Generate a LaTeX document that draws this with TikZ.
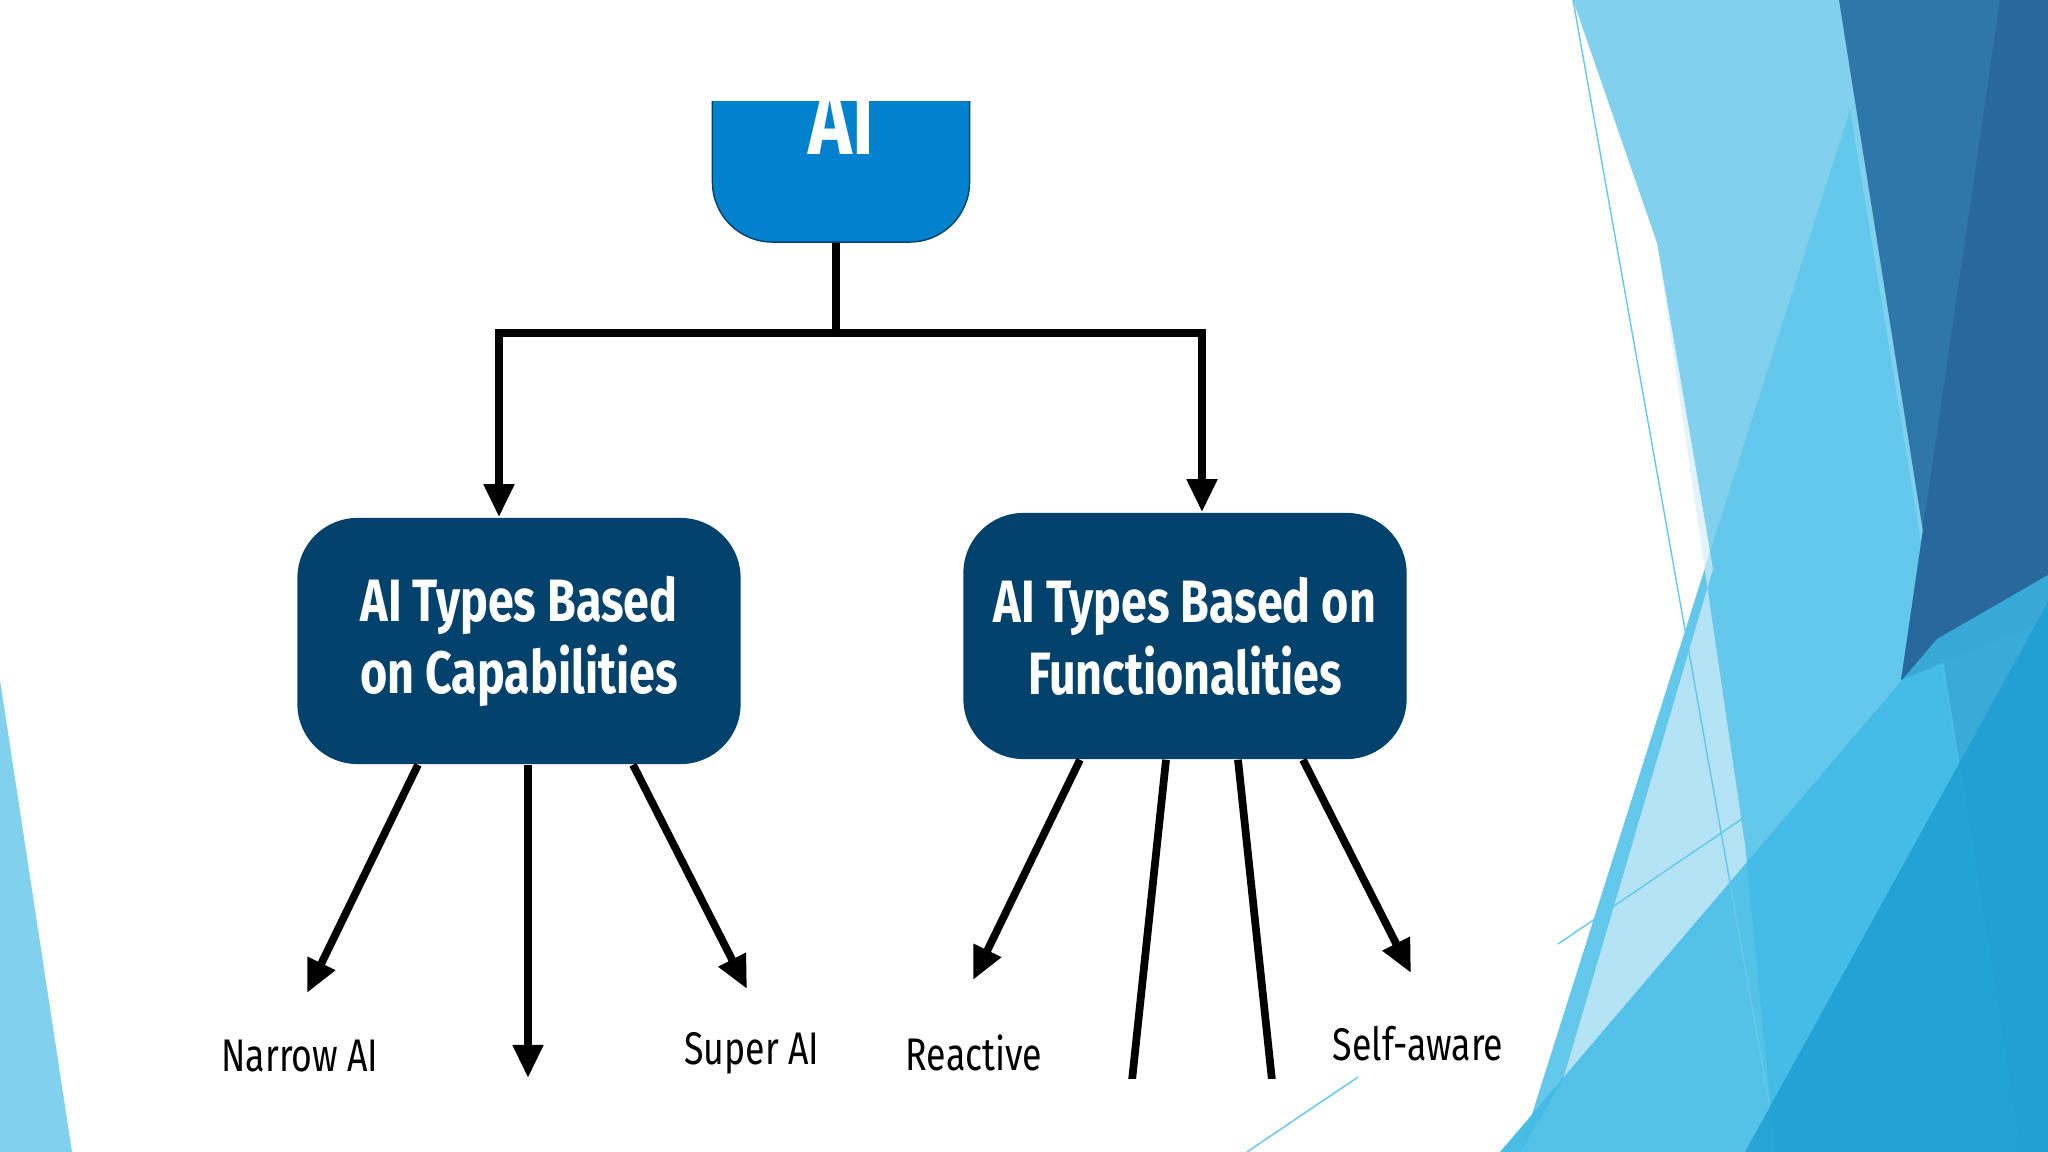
\documentclass[tikz,border=0pt]{standalone}
\usepackage{fontspec}
\setmainfont{Fira Sans}
\newfontfamily\narrowfont{Fira Sans}[FakeStretch=0.78]
\usepackage{tikz}
\usetikzlibrary{arrows.meta}

\definecolor{AIblue}{HTML}{0281CE}
\definecolor{TypeBlue}{HTML}{04426E}
\definecolor{FacetA}{HTML}{80D0EE}
\definecolor{FacetB}{HTML}{64C8EC}
\definecolor{FacetC}{HTML}{2E77A8}
\definecolor{FacetD}{HTML}{28689C}
\definecolor{FacetE}{HTML}{1E9FD3}
\definecolor{FacetF}{HTML}{3DB9E6}
\definecolor{FacetG}{HTML}{D6EFF9}

\tikzset{
    typebox/.style={fill=TypeBlue, rounded corners=6mm, minimum width=44.3mm,
        minimum height=24.6mm, align=center, text=white,
        font=\narrowfont\fontsize{17}{20.5}\selectfont\bfseries},
    leaf/.style={align=center, font=\narrowfont\fontsize{13}{15}\selectfont},
    link/.style={line width=2.2pt, -{Triangle[length=3.3mm,width=2.9mm]}},
    stem/.style={line width=2.2pt}
}

\begin{document}
\begin{tikzpicture}[x=0.01cm, y=-0.01cm]
    \useasboundingbox (0,0) rectangle (2048,1152);

        % facets on the right
        \begin{scope}
            \fill[FacetA] (1573,0) -- (2048,0) -- (2048,1152) -- (1500,1152)
                -- (1563,1080) -- (1713,569) -- (1657,243) -- cycle;
            \fill[FacetB] (1850,110) -- (2021,1152) -- (1520,1152) -- cycle;
            \fill[FacetG, opacity=0.7] (1657,243) -- (1745,845) -- (1775,1152)
                -- (1520,1152) -- (1563,1080) -- (1713,569) -- cycle;
            \fill[FacetC] (1839,0) -- (2048,0) -- (2048,1152) -- (2021,1152) -- cycle;
            \fill[FacetD] (2000,0) -- (2048,0) -- (2048,620) -- (1901,680) -- cycle;
            \fill[FacetF, opacity=0.8] (1937,639) -- (2048,575) -- (2048,1152) -- (1500,1152) -- cycle;
            \fill[FacetE, opacity=0.85] (2048,602) -- (2048,1152) -- (1745,1152) -- cycle;
            \fill[FacetA] (0,680) -- (72,1152) -- (0,1152) -- cycle;
            \draw[FacetB, thin] (1573,0) -- (1769,1102);
            \draw[FacetB, thin] (1558,944) -- (1839,753);
            \draw[FacetB, thin] (1247,1152) -- (1358,1077);
        \end{scope}

        % the chart, cut to its frame
        \begin{scope}
            \clip (190,102) rectangle (1557,1078);

            \node[fill=AIblue, draw=TypeBlue, rounded corners=6mm,
                minimum width=25.7mm, minimum height=24mm, text=white,
                font=\narrowfont\fontsize{27}{30}\selectfont\bfseries]
                (AI) at (841,122) {AI};

            \node[typebox] (Capab) at (519,641) {AI Types Based\\on Capabilities};
            \node[typebox] (Funct) at (1185,636) {AI Types Based on\\Functionalities};

            \coordinate (Fork) at (836,333);
            \draw[stem] (AI.south -| Fork) -- (Fork);
            \draw[link] (Fork) -| (Capab.north -| 499,0);
            \draw[link] (Fork) -| (Funct.north -| 1202,0);

            \coordinate (NarrowEnd) at (307,993);
            \coordinate (GeneralEnd) at (528,1078);
            \coordinate (SuperEnd) at (747,989);
            \draw[link] (Capab.south -| 418,0) -- (NarrowEnd);
            \draw[link] (Capab.south -| GeneralEnd) -- (GeneralEnd);
            \draw[link] (Capab.south -| 633,0) -- (SuperEnd);

            \coordinate (ReactEnd) at (973,980);
            \coordinate (LimitEnd) at (1131,1090);
            \coordinate (TheoryEnd) at (1273,1090);
            \coordinate (SelfEnd) at (1411,973);
            \draw[link] (Funct.south -| 1080,0) -- (ReactEnd);
            \draw[stem] (Funct.south -| 1166,0) -- (LimitEnd);
            \draw[stem] (Funct.south -| 1238,0) -- (TheoryEnd);
            \draw[link] (Funct.south -| 1303,0) -- (SelfEnd);

            \node[leaf] (Narrow) at (300,1056) {Narrow AI};
            \node[leaf] (Super) at (752,1053) {Super AI};
            \node[leaf, anchor=north] (React) at (974,1022) {Reactive\\Machines};
            \node[leaf, anchor=north] (Self) at (1418,1014) {Self-aware\\AI};
        \end{scope}

    \end{tikzpicture}
\end{document}
